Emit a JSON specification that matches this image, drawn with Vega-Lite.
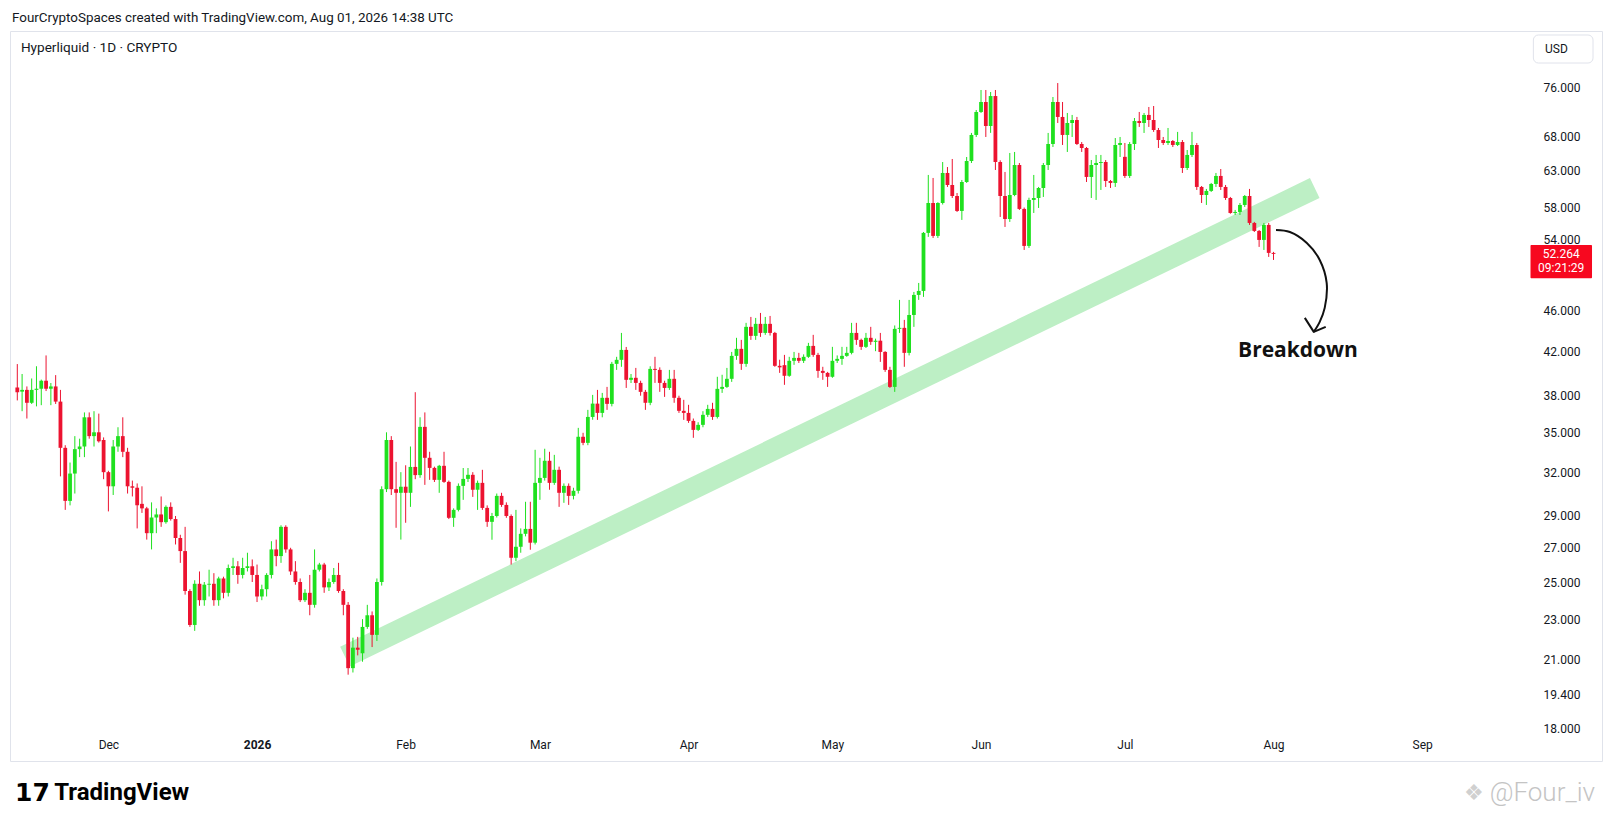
{
  "$schema": "https://vega.github.io/schema/vega-lite/v6.json",
  "width": 1592,
  "height": 730,
  "autosize": {"type": "none"},
  "padding": {"left": 10, "top": 31, "right": 12, "bottom": 67},
  "background": "#ffffff",
  "config": {
    "font": "Roboto",
    "view": {"stroke": "#e0e3eb", "strokeWidth": 1},
    "axisY": {"orient": "right", "offset": -76, "ticks": false, "domain": false, "grid": false, "labelAlign": "left", "labelBaseline": "middle", "labelPadding": 17, "labelFontSize": 12, "labelColor": "#131722", "labelFlush": false, "labelOverlap": false, "format": ".3f", "title": null}
  },
  "title": {"text": "FourCryptoSpaces created with TradingView.com, Aug 01, 2026 14:38 UTC", "anchor": "start", "frame": "group", "offset": 7, "dx": 2, "fontSize": 13.4, "fontWeight": "normal", "color": "#131722", "font": "Roboto"},
  "datasets": {
    "candles": [
      {"t":"2025-11-12","o":38.7,"h":40.8,"l":37.6,"c":38.3},
      {"t":"2025-11-13","o":38.35,"h":39.9,"l":36.7,"c":38.5},
      {"t":"2025-11-14","o":38.5,"h":38.8,"l":36.1,"c":37.4},
      {"t":"2025-11-15","o":37.4,"h":39.5,"l":37.3,"c":38.5},
      {"t":"2025-11-16","o":38.5,"h":40.6,"l":37.1,"c":38.6},
      {"t":"2025-11-17","o":38.6,"h":39.4,"l":37.2,"c":39.3},
      {"t":"2025-11-18","o":39.3,"h":41.6,"l":38.4,"c":38.6},
      {"t":"2025-11-19","o":38.6,"h":39.1,"l":37.2,"c":38.8},
      {"t":"2025-11-20","o":38.8,"h":39.8,"l":37.3,"c":37.5},
      {"t":"2025-11-21","o":37.5,"h":38.5,"l":31.7,"c":33.8},
      {"t":"2025-11-22","o":33.8,"h":34.0,"l":29.4,"c":30.0},
      {"t":"2025-11-23","o":30.0,"h":32.7,"l":29.7,"c":31.9},
      {"t":"2025-11-24","o":31.9,"h":34.7,"l":30.5,"c":33.7},
      {"t":"2025-11-25","o":33.7,"h":34.5,"l":33.1,"c":33.9},
      {"t":"2025-11-26","o":33.9,"h":36.6,"l":33.1,"c":36.2},
      {"t":"2025-11-27","o":36.2,"h":36.6,"l":34.5,"c":34.7},
      {"t":"2025-11-28","o":34.7,"h":36.7,"l":33.9,"c":35.0},
      {"t":"2025-11-29","o":35.0,"h":36.5,"l":34.2,"c":34.3},
      {"t":"2025-11-30","o":34.4,"h":34.6,"l":31.5,"c":32.0},
      {"t":"2025-12-01","o":32.0,"h":32.1,"l":29.3,"c":31.0},
      {"t":"2025-12-02","o":31.0,"h":34.4,"l":30.4,"c":33.9},
      {"t":"2025-12-03","o":33.9,"h":35.4,"l":33.5,"c":34.7},
      {"t":"2025-12-04","o":34.7,"h":36.2,"l":33.1,"c":33.5},
      {"t":"2025-12-05","o":33.5,"h":33.8,"l":30.5,"c":31.0},
      {"t":"2025-12-06","o":31.0,"h":31.4,"l":30.3,"c":30.9},
      {"t":"2025-12-07","o":30.9,"h":31.2,"l":28.2,"c":29.7},
      {"t":"2025-12-08","o":29.8,"h":31.0,"l":29.2,"c":29.5},
      {"t":"2025-12-09","o":29.5,"h":29.6,"l":27.5,"c":27.9},
      {"t":"2025-12-10","o":27.9,"h":29.9,"l":26.9,"c":28.9},
      {"t":"2025-12-11","o":28.9,"h":29.5,"l":27.9,"c":29.1},
      {"t":"2025-12-12","o":29.1,"h":30.3,"l":28.3,"c":28.6},
      {"t":"2025-12-13","o":28.6,"h":29.7,"l":28.5,"c":29.6},
      {"t":"2025-12-14","o":29.6,"h":29.9,"l":28.7,"c":28.8},
      {"t":"2025-12-15","o":28.8,"h":29.0,"l":27.2,"c":27.6},
      {"t":"2025-12-16","o":27.6,"h":27.8,"l":26.1,"c":26.8},
      {"t":"2025-12-17","o":26.8,"h":28.3,"l":24.3,"c":24.5},
      {"t":"2025-12-18","o":24.5,"h":24.6,"l":22.6,"c":22.7},
      {"t":"2025-12-19","o":22.7,"h":25.1,"l":22.4,"c":24.9},
      {"t":"2025-12-20","o":24.9,"h":25.6,"l":23.7,"c":24.0},
      {"t":"2025-12-21","o":24.0,"h":25.0,"l":23.7,"c":24.85},
      {"t":"2025-12-22","o":24.85,"h":25.7,"l":24.2,"c":24.9},
      {"t":"2025-12-23","o":24.9,"h":25.5,"l":23.7,"c":24.0},
      {"t":"2025-12-24","o":24.0,"h":25.3,"l":23.7,"c":25.2},
      {"t":"2025-12-25","o":25.2,"h":25.3,"l":24.1,"c":24.4},
      {"t":"2025-12-26","o":24.4,"h":26.0,"l":24.2,"c":25.8},
      {"t":"2025-12-27","o":25.8,"h":26.4,"l":25.4,"c":25.9},
      {"t":"2025-12-28","o":25.9,"h":26.2,"l":24.9,"c":25.4},
      {"t":"2025-12-29","o":25.4,"h":26.4,"l":25.2,"c":25.8},
      {"t":"2025-12-30","o":25.8,"h":26.7,"l":25.6,"c":25.9},
      {"t":"2025-12-31","o":25.9,"h":26.3,"l":25.0,"c":25.4},
      {"t":"2026-01-01","o":25.4,"h":26.0,"l":23.9,"c":24.2},
      {"t":"2026-01-02","o":24.2,"h":24.85,"l":24.0,"c":24.6},
      {"t":"2026-01-03","o":24.6,"h":25.5,"l":24.2,"c":25.4},
      {"t":"2026-01-04","o":25.4,"h":27.4,"l":25.2,"c":26.9},
      {"t":"2026-01-05","o":26.9,"h":27.5,"l":25.9,"c":26.5},
      {"t":"2026-01-06","o":26.5,"h":28.4,"l":26.1,"c":28.3},
      {"t":"2026-01-07","o":28.3,"h":28.4,"l":26.7,"c":26.9},
      {"t":"2026-01-08","o":26.9,"h":27.0,"l":25.4,"c":25.6},
      {"t":"2026-01-09","o":25.6,"h":26.2,"l":24.85,"c":25.0},
      {"t":"2026-01-10","o":25.0,"h":25.2,"l":23.9,"c":24.0},
      {"t":"2026-01-11","o":24.0,"h":24.6,"l":23.9,"c":24.4},
      {"t":"2026-01-12","o":24.4,"h":25.4,"l":23.2,"c":23.75},
      {"t":"2026-01-13","o":23.75,"h":26.9,"l":23.6,"c":25.7},
      {"t":"2026-01-14","o":25.7,"h":26.1,"l":25.6,"c":26.0},
      {"t":"2026-01-15","o":26.0,"h":26.1,"l":24.4,"c":24.7},
      {"t":"2026-01-16","o":24.7,"h":25.2,"l":24.5,"c":25.0},
      {"t":"2026-01-17","o":25.0,"h":25.8,"l":24.9,"c":25.4},
      {"t":"2026-01-18","o":25.4,"h":26.1,"l":24.4,"c":24.5},
      {"t":"2026-01-19","o":24.5,"h":24.6,"l":23.2,"c":23.75},
      {"t":"2026-01-20","o":23.75,"h":23.9,"l":20.3,"c":20.6},
      {"t":"2026-01-21","o":20.6,"h":22.06,"l":20.4,"c":21.57},
      {"t":"2026-01-22","o":21.57,"h":22.1,"l":21.2,"c":21.47},
      {"t":"2026-01-23","o":21.3,"h":23.0,"l":20.9,"c":22.6},
      {"t":"2026-01-24","o":22.6,"h":23.75,"l":22.5,"c":23.2},
      {"t":"2026-01-25","o":23.2,"h":23.4,"l":21.6,"c":22.2},
      {"t":"2026-01-26","o":22.2,"h":25.2,"l":21.9,"c":25.0},
      {"t":"2026-01-27","o":25.0,"h":31.0,"l":24.8,"c":30.8},
      {"t":"2026-01-28","o":30.8,"h":35.0,"l":30.6,"c":34.4},
      {"t":"2026-01-29","o":34.4,"h":34.7,"l":30.4,"c":30.8},
      {"t":"2026-01-30","o":30.8,"h":32.75,"l":28.24,"c":30.55},
      {"t":"2026-01-31","o":30.55,"h":32.0,"l":27.5,"c":30.97},
      {"t":"2026-02-01","o":30.97,"h":32.5,"l":28.56,"c":30.55},
      {"t":"2026-02-02","o":30.55,"h":33.9,"l":29.6,"c":32.38},
      {"t":"2026-02-03","o":32.38,"h":38.3,"l":31.5,"c":31.79},
      {"t":"2026-02-04","o":31.79,"h":36.2,"l":31.6,"c":35.43},
      {"t":"2026-02-05","o":35.43,"h":36.6,"l":31.1,"c":33.05},
      {"t":"2026-02-06","o":33.05,"h":33.5,"l":31.45,"c":32.31},
      {"t":"2026-02-07","o":32.31,"h":32.4,"l":31.3,"c":31.45},
      {"t":"2026-02-08","o":31.45,"h":32.53,"l":30.55,"c":32.46},
      {"t":"2026-02-09","o":32.46,"h":33.5,"l":31.24,"c":31.31},
      {"t":"2026-02-10","o":31.31,"h":31.4,"l":28.8,"c":28.88},
      {"t":"2026-02-11","o":28.88,"h":29.5,"l":28.3,"c":29.4},
      {"t":"2026-02-12","o":29.4,"h":31.2,"l":29.3,"c":31.03},
      {"t":"2026-02-13","o":31.03,"h":32.3,"l":30.07,"c":31.52},
      {"t":"2026-02-14","o":31.52,"h":32.3,"l":31.3,"c":31.81},
      {"t":"2026-02-15","o":31.81,"h":32.0,"l":30.27,"c":30.76},
      {"t":"2026-02-16","o":30.76,"h":31.4,"l":29.4,"c":31.24},
      {"t":"2026-02-17","o":31.24,"h":32.17,"l":29.4,"c":29.53},
      {"t":"2026-02-18","o":29.53,"h":29.7,"l":28.3,"c":28.62},
      {"t":"2026-02-19","o":28.62,"h":29.2,"l":27.49,"c":29.0},
      {"t":"2026-02-20","o":29.0,"h":30.5,"l":28.9,"c":30.34},
      {"t":"2026-02-21","o":30.34,"h":30.55,"l":29.6,"c":29.73},
      {"t":"2026-02-22","o":29.73,"h":29.9,"l":28.88,"c":29.0},
      {"t":"2026-02-23","o":29.0,"h":29.1,"l":26.0,"c":26.4},
      {"t":"2026-02-24","o":26.4,"h":29.4,"l":26.2,"c":27.06},
      {"t":"2026-02-25","o":27.06,"h":28.2,"l":26.7,"c":27.86},
      {"t":"2026-02-26","o":27.86,"h":29.94,"l":27.7,"c":28.17},
      {"t":"2026-02-27","o":28.17,"h":29.94,"l":26.88,"c":27.31},
      {"t":"2026-02-28","o":27.31,"h":33.65,"l":27.2,"c":31.24},
      {"t":"2026-03-01","o":31.24,"h":33.05,"l":30.07,"c":31.59},
      {"t":"2026-03-02","o":31.59,"h":33.73,"l":31.4,"c":32.83},
      {"t":"2026-03-03","o":32.83,"h":33.5,"l":30.76,"c":31.24},
      {"t":"2026-03-04","o":31.24,"h":33.27,"l":31.1,"c":32.17},
      {"t":"2026-03-05","o":32.17,"h":32.4,"l":29.6,"c":30.55},
      {"t":"2026-03-06","o":30.55,"h":31.2,"l":29.87,"c":31.03},
      {"t":"2026-03-07","o":31.03,"h":31.2,"l":29.73,"c":30.34},
      {"t":"2026-03-08","o":30.34,"h":30.9,"l":30.1,"c":30.69},
      {"t":"2026-03-09","o":30.69,"h":35.35,"l":30.5,"c":34.65},
      {"t":"2026-03-10","o":34.65,"h":34.96,"l":34.0,"c":34.18},
      {"t":"2026-03-11","o":34.18,"h":36.81,"l":34.0,"c":36.23},
      {"t":"2026-03-12","o":36.23,"h":38.07,"l":36.0,"c":37.33},
      {"t":"2026-03-13","o":37.33,"h":38.5,"l":35.99,"c":36.56},
      {"t":"2026-03-14","o":36.56,"h":38.24,"l":36.2,"c":37.82},
      {"t":"2026-03-15","o":37.82,"h":38.76,"l":36.81,"c":37.31},
      {"t":"2026-03-16","o":37.31,"h":41.0,"l":37.1,"c":40.82},
      {"t":"2026-03-17","o":40.82,"h":41.47,"l":40.27,"c":41.19},
      {"t":"2026-03-18","o":41.19,"h":43.76,"l":40.55,"c":42.12},
      {"t":"2026-03-19","o":42.12,"h":42.4,"l":38.67,"c":39.38},
      {"t":"2026-03-20","o":39.38,"h":39.9,"l":39.1,"c":39.56},
      {"t":"2026-03-21","o":39.56,"h":40.45,"l":38.5,"c":39.11},
      {"t":"2026-03-22","o":39.11,"h":39.3,"l":38.0,"c":38.33},
      {"t":"2026-03-23","o":38.33,"h":38.5,"l":36.81,"c":37.4},
      {"t":"2026-03-24","o":37.4,"h":40.6,"l":37.2,"c":40.36},
      {"t":"2026-03-25","o":40.36,"h":41.47,"l":39.11,"c":40.27},
      {"t":"2026-03-26","o":40.27,"h":40.5,"l":38.33,"c":39.11},
      {"t":"2026-03-27","o":39.11,"h":39.3,"l":37.9,"c":38.67},
      {"t":"2026-03-28","o":38.67,"h":40.27,"l":38.5,"c":39.47},
      {"t":"2026-03-29","o":39.47,"h":40.27,"l":37.4,"c":37.82},
      {"t":"2026-03-30","o":37.82,"h":38.0,"l":36.56,"c":36.73},
      {"t":"2026-03-31","o":36.73,"h":37.65,"l":35.99,"c":36.56},
      {"t":"2026-04-01","o":36.56,"h":37.23,"l":35.75,"c":35.91},
      {"t":"2026-04-02","o":35.91,"h":36.1,"l":34.57,"c":35.19},
      {"t":"2026-04-03","o":35.19,"h":35.8,"l":35.1,"c":35.59},
      {"t":"2026-04-04","o":35.59,"h":36.7,"l":35.4,"c":36.4},
      {"t":"2026-04-05","o":36.4,"h":37.23,"l":36.23,"c":36.89},
      {"t":"2026-04-06","o":36.89,"h":37.4,"l":35.99,"c":36.23},
      {"t":"2026-04-07","o":36.23,"h":39.65,"l":36.1,"c":38.59},
      {"t":"2026-04-08","o":38.59,"h":39.83,"l":38.24,"c":38.76},
      {"t":"2026-04-09","o":38.76,"h":40.45,"l":38.67,"c":39.47},
      {"t":"2026-04-10","o":39.47,"h":41.93,"l":39.2,"c":41.56},
      {"t":"2026-04-11","o":41.56,"h":43.28,"l":41.19,"c":42.22},
      {"t":"2026-04-12","o":42.22,"h":43.08,"l":40.27,"c":40.82},
      {"t":"2026-04-13","o":40.82,"h":44.76,"l":40.55,"c":44.36},
      {"t":"2026-04-14","o":44.36,"h":45.36,"l":43.08,"c":43.47},
      {"t":"2026-04-15","o":43.47,"h":45.26,"l":43.08,"c":44.66},
      {"t":"2026-04-16","o":44.66,"h":45.77,"l":43.37,"c":43.76},
      {"t":"2026-04-17","o":43.76,"h":45.36,"l":43.57,"c":44.66},
      {"t":"2026-04-18","o":44.66,"h":45.46,"l":43.5,"c":43.76},
      {"t":"2026-04-19","o":43.76,"h":43.86,"l":40.55,"c":40.64},
      {"t":"2026-04-20","o":40.64,"h":41.2,"l":40.0,"c":40.5},
      {"t":"2026-04-21","o":40.7,"h":41.65,"l":38.94,"c":39.74},
      {"t":"2026-04-22","o":39.74,"h":41.47,"l":39.65,"c":41.1},
      {"t":"2026-04-23","o":41.1,"h":41.93,"l":40.73,"c":41.37},
      {"t":"2026-04-24","o":41.37,"h":41.84,"l":40.9,"c":41.1},
      {"t":"2026-04-25","o":41.1,"h":41.7,"l":40.9,"c":41.47},
      {"t":"2026-04-26","o":41.47,"h":42.79,"l":41.37,"c":42.5},
      {"t":"2026-04-27","o":42.5,"h":43.57,"l":41.47,"c":41.65},
      {"t":"2026-04-28","o":41.65,"h":41.84,"l":39.56,"c":40.18},
      {"t":"2026-04-29","o":40.18,"h":40.55,"l":39.38,"c":40.0},
      {"t":"2026-04-30","o":40.0,"h":40.09,"l":38.76,"c":39.65},
      {"t":"2026-05-01","o":39.65,"h":42.41,"l":39.56,"c":41.1},
      {"t":"2026-05-02","o":41.1,"h":41.6,"l":40.9,"c":41.28},
      {"t":"2026-05-03","o":41.28,"h":42.41,"l":40.73,"c":41.56},
      {"t":"2026-05-04","o":41.56,"h":42.41,"l":41.47,"c":41.84},
      {"t":"2026-05-05","o":41.84,"h":44.76,"l":41.7,"c":43.76},
      {"t":"2026-05-06","o":43.76,"h":44.76,"l":42.6,"c":43.08},
      {"t":"2026-05-07","o":43.08,"h":43.2,"l":42.12,"c":42.41},
      {"t":"2026-05-08","o":42.41,"h":43.76,"l":42.3,"c":43.28},
      {"t":"2026-05-09","o":43.28,"h":44.36,"l":42.6,"c":42.89},
      {"t":"2026-05-10","o":42.89,"h":43.2,"l":42.0,"c":43.0},
      {"t":"2026-05-11","o":43.0,"h":43.76,"l":41.0,"c":41.93},
      {"t":"2026-05-12","o":41.93,"h":42.0,"l":40.09,"c":40.27},
      {"t":"2026-05-13","o":40.27,"h":40.55,"l":38.67,"c":38.76},
      {"t":"2026-05-14","o":38.76,"h":44.5,"l":38.33,"c":44.16},
      {"t":"2026-05-15","o":44.16,"h":47.13,"l":43.76,"c":44.26},
      {"t":"2026-05-16","o":44.26,"h":45.06,"l":40.55,"c":41.84},
      {"t":"2026-05-17","o":41.84,"h":47.13,"l":41.6,"c":45.56},
      {"t":"2026-05-18","o":45.56,"h":47.98,"l":44.36,"c":47.66},
      {"t":"2026-05-19","o":47.66,"h":48.96,"l":47.13,"c":48.09},
      {"t":"2026-05-20","o":48.09,"h":54.9,"l":47.45,"c":54.79},
      {"t":"2026-05-21","o":54.79,"h":62.41,"l":54.3,"c":58.6},
      {"t":"2026-05-22","o":58.6,"h":61.99,"l":54.17,"c":54.42},
      {"t":"2026-05-23","o":54.42,"h":58.7,"l":54.17,"c":58.6},
      {"t":"2026-05-24","o":58.6,"h":64.25,"l":58.4,"c":62.69},
      {"t":"2026-05-25","o":62.69,"h":63.53,"l":60.75,"c":61.02},
      {"t":"2026-05-26","o":61.02,"h":64.69,"l":59.26,"c":59.53},
      {"t":"2026-05-27","o":59.53,"h":59.93,"l":57.43,"c":57.56},
      {"t":"2026-05-28","o":57.56,"h":61.71,"l":56.41,"c":61.43},
      {"t":"2026-05-29","o":61.43,"h":64.98,"l":61.3,"c":64.4},
      {"t":"2026-05-30","o":64.4,"h":68.59,"l":64.11,"c":68.28},
      {"t":"2026-05-31","o":68.28,"h":72.22,"l":67.97,"c":71.9},
      {"t":"2026-06-01","o":71.9,"h":75.54,"l":71.74,"c":73.53},
      {"t":"2026-06-02","o":73.53,"h":75.54,"l":67.97,"c":69.67},
      {"t":"2026-06-03","o":69.67,"h":75.2,"l":68.6,"c":74.52},
      {"t":"2026-06-04","o":74.52,"h":75.54,"l":63.11,"c":64.25},
      {"t":"2026-06-05","o":64.25,"h":64.5,"l":56.79,"c":59.53},
      {"t":"2026-06-06","o":59.53,"h":62.83,"l":55.53,"c":56.53},
      {"t":"2026-06-07","o":56.53,"h":65.57,"l":56.16,"c":59.66},
      {"t":"2026-06-08","o":59.66,"h":65.72,"l":59.5,"c":63.82},
      {"t":"2026-06-09","o":63.82,"h":64.11,"l":57.69,"c":57.82},
      {"t":"2026-06-10","o":57.82,"h":58.0,"l":52.73,"c":53.21},
      {"t":"2026-06-11","o":53.21,"h":59.3,"l":52.97,"c":59.0},
      {"t":"2026-06-12","o":59.0,"h":62.41,"l":57.3,"c":59.26},
      {"t":"2026-06-13","o":59.26,"h":60.75,"l":57.95,"c":60.61},
      {"t":"2026-06-14","o":60.61,"h":64.11,"l":59.4,"c":63.82},
      {"t":"2026-06-15","o":63.82,"h":68.59,"l":63.11,"c":66.91},
      {"t":"2026-06-16","o":66.91,"h":74.36,"l":66.46,"c":73.53},
      {"t":"2026-06-17","o":73.53,"h":76.73,"l":70.14,"c":71.1},
      {"t":"2026-06-18","o":71.1,"h":73.53,"l":66.76,"c":68.28},
      {"t":"2026-06-19","o":68.28,"h":71.74,"l":65.72,"c":70.14},
      {"t":"2026-06-20","o":70.14,"h":71.42,"l":67.97,"c":70.61},
      {"t":"2026-06-21","o":70.61,"h":71.1,"l":66.76,"c":66.91},
      {"t":"2026-06-22","o":66.91,"h":67.2,"l":65.72,"c":66.31},
      {"t":"2026-06-23","o":66.31,"h":66.46,"l":61.43,"c":62.13},
      {"t":"2026-06-24","o":62.13,"h":64.54,"l":59.26,"c":63.82},
      {"t":"2026-06-25","o":63.82,"h":65.28,"l":59.0,"c":64.11},
      {"t":"2026-06-26","o":64.11,"h":65.28,"l":60.34,"c":64.25},
      {"t":"2026-06-27","o":64.25,"h":64.54,"l":60.75,"c":61.57},
      {"t":"2026-06-28","o":61.57,"h":61.71,"l":60.61,"c":61.3},
      {"t":"2026-06-29","o":61.3,"h":67.81,"l":60.75,"c":66.76},
      {"t":"2026-06-30","o":66.76,"h":67.97,"l":64.98,"c":67.06},
      {"t":"2026-07-01","o":65.0,"h":67.06,"l":61.99,"c":62.27},
      {"t":"2026-07-02","o":62.27,"h":67.2,"l":61.99,"c":66.91},
      {"t":"2026-07-03","o":66.91,"h":70.93,"l":66.01,"c":70.45},
      {"t":"2026-07-04","o":70.45,"h":71.9,"l":69.52,"c":70.14},
      {"t":"2026-07-05","o":70.14,"h":71.74,"l":68.59,"c":71.42},
      {"t":"2026-07-06","o":71.42,"h":72.71,"l":69.52,"c":70.61},
      {"t":"2026-07-07","o":70.61,"h":72.87,"l":68.75,"c":69.04},
      {"t":"2026-07-08","o":69.04,"h":69.36,"l":66.31,"c":67.51},
      {"t":"2026-07-09","o":67.51,"h":67.97,"l":66.76,"c":67.06},
      {"t":"2026-07-10","o":67.06,"h":69.36,"l":66.76,"c":67.36},
      {"t":"2026-07-11","o":67.36,"h":67.51,"l":66.46,"c":66.76},
      {"t":"2026-07-12","o":66.76,"h":68.75,"l":66.6,"c":67.21},
      {"t":"2026-07-13","o":67.21,"h":67.51,"l":62.69,"c":63.39},
      {"t":"2026-07-14","o":63.39,"h":66.01,"l":63.11,"c":65.28},
      {"t":"2026-07-15","o":65.28,"h":68.75,"l":64.98,"c":66.76},
      {"t":"2026-07-16","o":66.76,"h":67.06,"l":60.34,"c":60.75},
      {"t":"2026-07-17","o":60.75,"h":60.88,"l":58.6,"c":59.66},
      {"t":"2026-07-18","o":59.66,"h":60.48,"l":58.34,"c":60.21},
      {"t":"2026-07-19","o":60.21,"h":61.3,"l":60.07,"c":61.16},
      {"t":"2026-07-20","o":61.16,"h":62.69,"l":60.75,"c":62.27},
      {"t":"2026-07-21","o":62.27,"h":63.25,"l":60.34,"c":60.75},
      {"t":"2026-07-22","o":60.75,"h":61.02,"l":59.0,"c":59.26},
      {"t":"2026-07-23","o":59.26,"h":59.4,"l":57.2,"c":57.3},
      {"t":"2026-07-24","o":57.3,"h":57.69,"l":57.04,"c":57.43},
      {"t":"2026-07-25","o":57.43,"h":58.6,"l":57.04,"c":58.34},
      {"t":"2026-07-26","o":58.34,"h":59.66,"l":58.08,"c":59.53},
      {"t":"2026-07-27","o":59.53,"h":60.48,"l":55.78,"c":56.03},
      {"t":"2026-07-28","o":56.03,"h":56.16,"l":54.9,"c":55.03},
      {"t":"2026-07-29","o":55.03,"h":55.15,"l":53.09,"c":53.93},
      {"t":"2026-07-30","o":53.93,"h":56.03,"l":52.73,"c":55.78},
      {"t":"2026-07-31","o":55.78,"h":56.03,"l":51.91,"c":52.38},
      {"t":"2026-08-01","o":52.38,"h":52.5,"l":51.56,"c":52.264}
    ],
    "band": [
      {"t":"2026-01-19T08:00:00Z","p":21.14},
      {"t":"2026-08-09T14:24:00Z","p":60.61}
    ],
    "arrow": [
      {"i":1,"t":"2026-08-01T12:30:00Z","p":55.15},
      {"i":2,"t":"2026-08-04T10:00:00Z","p":54.9},
      {"i":3,"t":"2026-08-07T22:48:00Z","p":53.57},
      {"i":4,"t":"2026-08-10T15:22:00Z","p":51.56},
      {"i":5,"t":"2026-08-12T02:10:00Z","p":48.97},
      {"i":6,"t":"2026-08-11T16:19:00Z","p":46.29},
      {"i":7,"t":"2026-08-10T15:22:00Z","p":44.86},
      {"i":8,"t":"2026-08-09T09:36:00Z","p":43.86}
    ],
    "arrowhead": [
      {"i":1,"t":"2026-08-07T12:43:00Z","p":45.26},
      {"i":2,"t":"2026-08-09T09:36:00Z","p":43.86},
      {"i":3,"t":"2026-08-11T21:22:00Z","p":44.36}
    ]
  },
  "encoding": {
    "x": {
      "field": "t", "type": "temporal", "title": null,
      "scale": {"type": "utc", "domain": [{"year":2025,"month":11,"date":11,"hours":12,"minutes":29,"utc":true},{"year":2026,"month":10,"date":7,"hours":11,"minutes":17,"utc":true}]},
      "axis": {
        "orient": "bottom", "offset": -30, "ticks": false, "domain": false, "grid": false,
        "labelPadding": 8, "labelFontSize": 12, "labelColor": "#131722", "labelFlush": false, "labelOverlap": false,
        "values": [
          {"year":2025,"month":12,"date":1,"utc":true},
          {"year":2026,"month":1,"date":1,"utc":true},
          {"year":2026,"month":2,"date":1,"utc":true},
          {"year":2026,"month":3,"date":1,"utc":true},
          {"year":2026,"month":4,"date":1,"utc":true},
          {"year":2026,"month":5,"date":1,"utc":true},
          {"year":2026,"month":6,"date":1,"utc":true},
          {"year":2026,"month":7,"date":1,"utc":true},
          {"year":2026,"month":8,"date":1,"utc":true},
          {"year":2026,"month":9,"date":1,"utc":true}
        ],
        "labelExpr": "utcmonth(datum.value) == 0 ? utcFormat(datum.value, '%Y') : utcFormat(datum.value, '%b')",
        "labelFontWeight": {"condition": {"test": "utcmonth(datum.value) == 0", "value": "bold"}, "value": "normal"}
      }
    },
    "y": {
      "field": "p", "type": "quantitative", "title": null,
      "scale": {"type": "log", "domain": [16.72, 86.25], "nice": false, "zero": false},
      "axis": {"values": [18, 19.4, 21, 23, 25, 27, 29, 32, 35, 38, 42, 46, 50, 54, 58, 63, 68, 76]}
    }
  },
  "layer": [
    {
      "data": {"name": "band"},
      "mark": {"type": "line", "strokeWidth": 22, "strokeCap": "butt", "color": "#bdefc5"}
    },
    {
      "data": {"name": "candles"},
      "mark": {"type": "rule", "strokeWidth": 1},
      "encoding": {
        "y": {"field": "l", "type": "quantitative", "title": null, "scale": {"type": "log", "domain": [16.72, 86.25], "nice": false, "zero": false}, "axis": {"values": [18, 19.4, 21, 23, 25, 27, 29, 32, 35, 38, 42, 46, 50, 54, 58, 63, 68, 76]}},
        "y2": {"field": "h"},
        "color": {"condition": {"test": "datum.c >= datum.o", "value": "#1fe01f"}, "value": "#ec1330"}
      }
    },
    {
      "data": {"name": "candles"},
      "mark": {"type": "bar", "width": 3.8},
      "encoding": {
        "y": {"field": "o", "type": "quantitative", "title": null, "scale": {"type": "log", "domain": [16.72, 86.25], "nice": false, "zero": false}, "axis": {"values": [18, 19.4, 21, 23, 25, 27, 29, 32, 35, 38, 42, 46, 50, 54, 58, 63, 68, 76]}},
        "y2": {"field": "c"},
        "color": {"condition": {"test": "datum.c >= datum.o", "value": "#1fe01f"}, "value": "#ec1330"}
      }
    },
    {
      "data": {"name": "arrow"},
      "mark": {"type": "line", "strokeWidth": 2, "color": "#111111", "interpolate": "catmull-rom"},
      "encoding": {"order": {"field": "i", "type": "quantitative"}}
    },
    {
      "data": {"name": "arrowhead"},
      "mark": {"type": "line", "strokeWidth": 2, "color": "#111111", "strokeJoin": "round"},
      "encoding": {"order": {"field": "i", "type": "quantitative"}}
    },
    {
      "data": {"values": [{"t": "2025-11-12T18:00:00Z", "p": 83.0, "label": "Hyperliquid · 1D · CRYPTO"}]},
      "mark": {"type": "text", "align": "left", "baseline": "middle", "fontSize": 13.6, "color": "#131722"},
      "encoding": {"text": {"field": "label"}}
    },
    {
      "data": {"values": [{"t": "2026-08-06T02:24:00Z", "p": 42.03, "label": "Breakdown"}]},
      "mark": {"type": "text", "align": "center", "baseline": "middle", "fontSize": 21, "fontWeight": "bold", "font": "Open Sans", "color": "#111111"},
      "encoding": {"text": {"field": "label"}}
    },
    {
      "data": {"values": [{"t": "2026-09-23T14:24:00Z", "t2": "2026-10-06T10:19:00Z", "p": 53.33, "p2": 49.49}]},
      "mark": {"type": "rect", "color": "#f7081f", "cornerRadius": 1},
      "encoding": {"x2": {"field": "t2"}, "y2": {"field": "p2"}}
    },
    {
      "data": {"values": [{"t": "2026-09-30T00:00:00Z", "p": 52.264, "label": "52.264"}, {"t": "2026-09-30T00:00:00Z", "p": 50.64, "label": "09:21:29"}]},
      "mark": {"type": "text", "align": "center", "baseline": "middle", "fontSize": 12, "color": "#ffffff"},
      "encoding": {"text": {"field": "label"}}
    },
    {
      "data": {"values": [{"t": "2026-09-24T04:48:00Z", "t2": "2026-10-06T15:22:00Z", "p": 85.48, "p2": 80.26}]},
      "mark": {"type": "rect", "fill": "#ffffff", "stroke": "#e0e3eb", "strokeWidth": 1, "cornerRadius": 5},
      "encoding": {"x2": {"field": "t2"}, "y2": {"field": "p2"}}
    },
    {
      "data": {"values": [{"t": "2026-09-29T00:00:00Z", "p": 82.83, "label": "USD"}]},
      "mark": {"type": "text", "align": "center", "baseline": "middle", "fontSize": 12, "color": "#131722"},
      "encoding": {"text": {"field": "label"}}
    },
    {
      "data": {"values": [{"t": "2025-11-11T12:29:00Z", "p": 15.57, "label": "17"}]},
      "mark": {"type": "text", "align": "left", "baseline": "middle", "fontSize": 25, "fontWeight": "bold", "font": "DejaVu Sans", "color": "#000000"},
      "encoding": {"text": {"field": "label"}}
    },
    {
      "data": {"values": [{"t": "2025-11-19T17:00:00Z", "p": 15.57, "label": "TradingView"}]},
      "mark": {"type": "text", "align": "left", "baseline": "middle", "fontSize": 24, "fontWeight": "bold", "font": "Roboto", "color": "#000000"},
      "encoding": {"text": {"field": "label"}}
    },
    {
      "data": {"values": [{"t": "2026-09-09T17:00:00Z", "p": 15.57, "label": "❖"}]},
      "mark": {"type": "text", "align": "left", "baseline": "middle", "fontSize": 22, "font": "DejaVu Sans", "color": "#d0d0d0"},
      "encoding": {"text": {"field": "label"}}
    },
    {
      "data": {"values": [{"t": "2026-09-15T02:00:00Z", "p": 15.57, "label": "@Four_iv"}]},
      "mark": {"type": "text", "align": "left", "baseline": "middle", "fontSize": 26, "font": "Roboto", "fontWeight": 300, "color": "#c4c4c4"},
      "encoding": {"text": {"field": "label"}}
    }
  ]
}
